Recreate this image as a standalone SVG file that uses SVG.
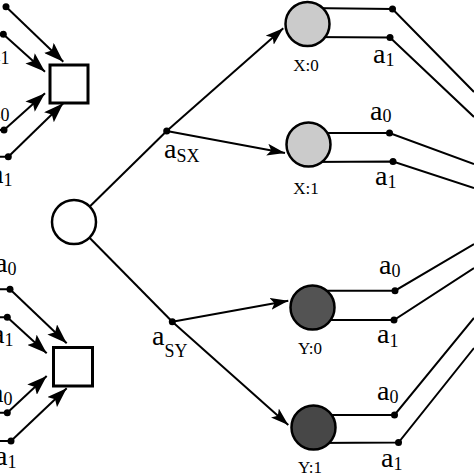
<svg xmlns="http://www.w3.org/2000/svg" width="474" height="474" viewBox="0 0 474 474">
<defs>
<style>
.ln{stroke:#000;stroke-width:2;fill:none}
.ar{stroke:#000;stroke-width:2;fill:none;marker-end:url(#ah)}
.arb{stroke:#000;stroke-width:2;fill:none;marker-end:url(#ahb)}
.dot{fill:#000}
.lab{font-family:"Liberation Serif","Times New Roman",serif;font-size:28px;fill:#000}
.sub{font-size:18px}
.nl{font-family:"Liberation Serif","Times New Roman",serif;font-size:17px;fill:#000;text-anchor:middle}
.c{stroke:#000;stroke-width:2.5}
.sq{fill:#fff;stroke:#000;stroke-width:3}
</style>
<marker id="ah" viewBox="0 0 18 12" refX="18" refY="6" markerWidth="18" markerHeight="12" markerUnits="userSpaceOnUse" orient="auto"><path d="M0,0 L18,6 L0,12 L4,6 z" fill="#000"/></marker>
<marker id="ahb" viewBox="0 0 20 14" refX="20" refY="7" markerWidth="20" markerHeight="14" markerUnits="userSpaceOnUse" orient="auto"><path d="M0,0 L20,7 L0,14 L4,7 z" fill="#000"/></marker>
</defs>
<g id="connectors">
<path class="ln" d="M74,222 L166.7,131"/>
<path class="ln" d="M74,222 L172.3,321.7"/>
<path class="ar" d="M166.7,131 L283.3,28.3"/>
<path class="ar" d="M166.7,131 L285,153"/>
<path class="ar" d="M172.3,321.7 L288.3,300.7"/>
<path class="ar" d="M172.3,321.7 L288.3,425"/>
<path class="ln" d="M307,8 L392.5,9 L474,92"/>
<path class="ln" d="M307,37 L390,37.5 L474,117"/>
<path class="ln" d="M308,133 L389.5,133 L474,164"/>
<path class="ln" d="M308,162 L393,161.5 L474,188"/>
<path class="ln" d="M312,290.7 L395,290.7 L474,244"/>
<path class="ln" d="M312,320 L394,320 L474,268"/>
<path class="ln" d="M313,415 L394.5,415 L474,318"/>
<path class="ln" d="M313,443 L398.5,442.5 L474,348"/>
<path class="arb" d="M6,6.7 L63.3,61.7"/>
<path class="arb" d="M3.3,34.3 L45,71.7"/>
<path class="arb" d="M4,130 L45,93.3"/>
<path class="arb" d="M8.3,156.7 L63.3,103.3"/>
<path class="ln" d="M-5,34.3 L3.3,34.3 M-5,130 L4,130 M-5,156.7 L8.3,156.7"/>
<path class="arb" d="M10,289.3 L66.7,343.3"/>
<path class="arb" d="M7.3,317.3 L46.7,353.3"/>
<path class="arb" d="M7.3,412.7 L46.7,376"/>
<path class="arb" d="M11,441 L66.7,388.3"/>
<path class="ln" d="M-5,289.3 L10,289.3 M-5,317.3 L7.3,317.3 M-5,412.7 L7.3,412.7 M-5,441 L11,441"/>
</g>
<g id="dots">
<circle class="dot" cx="166.7" cy="131" r="3.5"/>
<circle class="dot" cx="172.3" cy="321.7" r="3.5"/>
<circle class="dot" cx="392.5" cy="9" r="3.5"/>
<circle class="dot" cx="390" cy="37.5" r="3.5"/>
<circle class="dot" cx="389.5" cy="133" r="3.5"/>
<circle class="dot" cx="393" cy="161.5" r="3.5"/>
<circle class="dot" cx="395" cy="290.7" r="3.5"/>
<circle class="dot" cx="394" cy="320" r="3.5"/>
<circle class="dot" cx="394.5" cy="415" r="3.5"/>
<circle class="dot" cx="398.5" cy="442.5" r="3.5"/>
<circle class="dot" cx="6" cy="6.7" r="3.5"/>
<circle class="dot" cx="3.3" cy="34.3" r="3.5"/>
<circle class="dot" cx="4" cy="130" r="3.5"/>
<circle class="dot" cx="8.3" cy="156.7" r="3.5"/>
<circle class="dot" cx="10" cy="289.3" r="3.5"/>
<circle class="dot" cx="7.3" cy="317.3" r="3.5"/>
<circle class="dot" cx="7.3" cy="412.7" r="3.5"/>
<circle class="dot" cx="11" cy="441" r="3.5"/>
</g>
<g id="root"><circle class="c" cx="74" cy="222" r="22" fill="#fff"/></g>
<g id="X0"><circle class="c" cx="307.5" cy="24" r="22" fill="#cbcbcb"/><text class="nl" x="306" y="71">X:0</text></g>
<g id="X1"><circle class="c" cx="308.5" cy="144.5" r="22" fill="#cbcbcb"/><text class="nl" x="306" y="194">X:1</text></g>
<g id="Y0"><circle class="c" cx="312.5" cy="307.5" r="22" fill="#535353"/><text class="nl" x="310" y="354">Y:0</text></g>
<g id="Y1"><circle class="c" cx="313.5" cy="427.5" r="22" fill="#474747"/><text class="nl" x="310" y="473">Y:1</text></g>
<g id="decision-top"><rect class="sq" x="50" y="65" width="38" height="38"/></g>
<g id="decision-bottom"><rect class="sq" x="53.5" y="347.5" width="39" height="38.5"/></g>
<g id="labels">
<text class="lab" x="164" y="158">a<tspan class="sub" dy="4">SX</tspan></text>
<text class="lab" x="152" y="345">a<tspan class="sub" dy="12">SY</tspan></text>
<text class="lab" x="373" y="63">a<tspan class="sub" dy="3">1</tspan></text>
<text class="lab" x="370" y="120">a<tspan class="sub" dy="2">0</tspan></text>
<text class="lab" x="375" y="185">a<tspan class="sub" dy="3">1</tspan></text>
<text class="lab" x="379" y="274">a<tspan class="sub" dy="3">0</tspan></text>
<text class="lab" x="377" y="343">a<tspan class="sub" dy="4">1</tspan></text>
<text class="lab" x="377" y="400">a<tspan class="sub" dy="3">0</tspan></text>
<text class="lab" x="381" y="467">a<tspan class="sub" dy="3">1</tspan></text>
<text class="lab" x="-12" y="61">a<tspan class="sub" dy="3">1</tspan></text>
<text class="lab" x="-12" y="118">a<tspan class="sub" dy="3">0</tspan></text>
<text class="lab" x="-9" y="183">a<tspan class="sub" dy="3">1</tspan></text>
<text class="lab" x="-5" y="272">a<tspan class="sub" dy="3">0</tspan></text>
<text class="lab" x="-8" y="343">a<tspan class="sub" dy="3">1</tspan></text>
<text class="lab" x="-9" y="402">a<tspan class="sub" dy="3">0</tspan></text>
<text class="lab" x="-5" y="465">a<tspan class="sub" dy="3">1</tspan></text>
</g>
</svg>
